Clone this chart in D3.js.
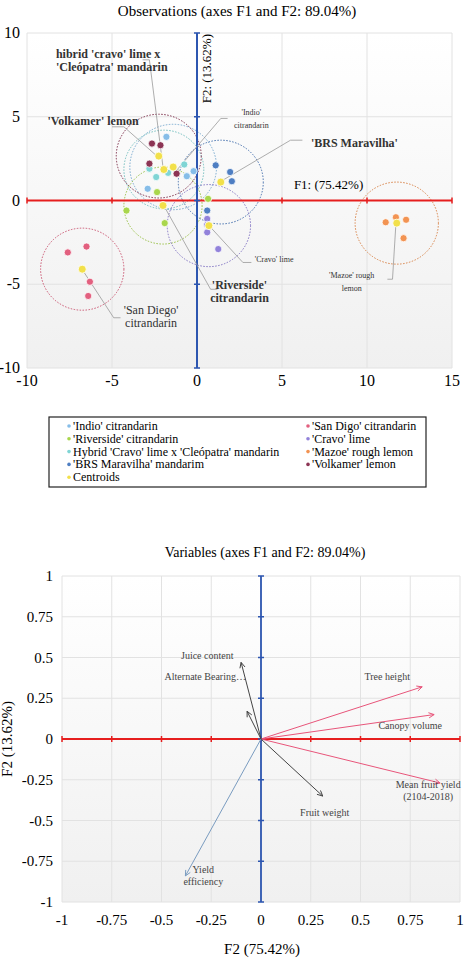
<!DOCTYPE html>
<html><head><meta charset="utf-8">
<script src="https://cdn.jsdelivr.net/npm/d3@7"></script>
<style>body{margin:0;background:#fff} svg text{font-family:"Liberation Serif","Times New Roman","DejaVu Serif",serif}</style>
</head><body>
<svg id="chart" width="474" height="959"></svg>
<script>
// ---- data: observations (F1, F2) ----
const groups = ["'Indio' citrandarin","'Riverside' citrandarin","Hybrid 'Cravo' lime x 'Cleópatra' mandarin","'BRS Maravilha' mandarim","'San Digo' citrandarin","'Cravo' lime","'Mazoe' rough lemon","'Volkamer' lemon"];
const groupColors = ["#86bde8","#a9d64c","#80d5d5","#4e7ec2","#e2607f","#9282da","#f29352","#8c3454"];
const obsX = [
  [-1.8,-2.9,-0.6,-0.2],
  [-4.15,-2.35,-1.9,0.65],
  [-2.8,-2.4,-0.75,-1.7],
  [1.1,1.95,2.05,0.6],
  [-7.6,-6.5,-6.3,-6.4],
  [0.6,0.6,1.25,0.6],
  [11.1,11.7,12.3,12.15],
  [-2.65,-2.15,-2.8,-1.2]
];
const obsY = [
  [3.8,0.7,1.45,1.75],
  [-0.6,0.5,-1.35,0.1],
  [1.9,1.4,2.15,1.65],
  [2.1,1.7,1.15,-0.6],
  [-3.1,-2.75,-4.85,-5.7],
  [-1.1,-1.9,-2.9,-1.45],
  [-1.3,-1.0,-1.15,-2.25],
  [3.4,3.3,2.2,1.6]
];
const centroidX = [-1.4,-2.0,-1.95,1.4,-6.75,0.7,11.75,-2.25];
const centroidY = [2.0,-0.3,1.85,1.1,-4.1,-1.5,-1.35,2.65];
const circleR = [2.55,2.3,2.35,2.5,2.45,2.45,2.45,2.5];

// ---- data: variables (correlation circle) ----
const varNames = ["Tree height","Canopy volume","Mean fruit yield","Fruit weight","Yield efficiency","Juice content","Alternate Bearing…"];
const varX = [0.81,0.87,0.90,0.31,-0.38,-0.10,-0.07];
const varY = [0.32,0.15,-0.27,-0.35,-0.84,0.47,0.17];
const varColors = ["#e8557a","#e8557a","#e8557a","#444","#7a9cc0","#444","#444"];

const svg = d3.select("#chart");

function plotBg(g, x, y) {
  const id = "grad" + Math.round(x.range()[0] + y.range()[0]);
  const gr = svg.append("defs").append("linearGradient").attr("id", id).attr("x1",0).attr("x2",0).attr("y1",0).attr("y2",1);
  gr.append("stop").attr("offset","0%").attr("stop-color","#ffffff");
  gr.append("stop").attr("offset","100%").attr("stop-color","#f0f0f0");
  g.append("rect").attr("x", x.range()[0]).attr("y", y.range()[1])
    .attr("width", x.range()[1]-x.range()[0]).attr("height", y.range()[0]-y.range()[1])
    .attr("fill", `url(#${id})`);
}

// ================= Plot 1 =================
{
  const x = d3.scaleLinear().domain([-10,15]).range([27,452]);
  const y = d3.scaleLinear().domain([-10,10]).range([368,33]);
  const g = svg.append("g");
  svg.append("text").attr("x",237).attr("y",16).attr("text-anchor","middle")
    .attr("font-size",15).text("Observations (axes F1 and F2: 89.04%)");
  plotBg(g, x, y);
  g.selectAll(".gx").data(x.ticks(5)).join("line").attr("x1",d=>x(d)).attr("x2",d=>x(d))
    .attr("y1",y(10)).attr("y2",y(-10)).attr("stroke","#e2e2e2");
  g.selectAll(".gy").data(y.ticks(4)).join("line").attr("y1",d=>y(d)).attr("y2",d=>y(d))
    .attr("x1",x(-10)).attr("x2",x(15)).attr("stroke","#e2e2e2");
  g.selectAll(".tx").data(x.ticks(5)).join("text").attr("x",d=>x(d)).attr("y",386)
    .attr("text-anchor","middle").attr("font-size",16).text(d=>d);
  g.selectAll(".ty").data(y.ticks(4)).join("text").attr("x",20).attr("y",d=>y(d)+5)
    .attr("text-anchor","end").attr("font-size",16).text(d=>d);

  groups.forEach((n,i)=>{
    g.append("ellipse").attr("cx",x(centroidX[i])).attr("cy",y(centroidY[i]))
      .attr("rx",x(circleR[i])-x(0)).attr("ry",y(0)-y(circleR[i]))
      .attr("fill","none").attr("stroke",d3.color(groupColors[i]).darker(0.3)).attr("stroke-width",1)
      .attr("stroke-dasharray","1.5,1.5");
  });
  g.append("line").attr("x1",x(-10)).attr("x2",x(15)).attr("y1",y(0)).attr("y2",y(0)).attr("stroke","#e61e1e").attr("stroke-width",2);
  g.selectAll(".axt").data(x.ticks(5)).join("line").attr("x1",d=>x(d)).attr("x2",d=>x(d)).attr("y1",y(0)-3).attr("y2",y(0)+3).attr("stroke","#e61e1e").attr("stroke-width",1.5);
  g.append("line").attr("x1",x(0)).attr("x2",x(0)).attr("y1",y(10)).attr("y2",y(-10)).attr("stroke","#2d56b0").attr("stroke-width",2);
  g.selectAll(".ayt").data(y.ticks(4)).join("line").attr("y1",d=>y(d)).attr("y2",d=>y(d)).attr("x1",x(0)-3).attr("x2",x(0)+3).attr("stroke","#2d56b0").attr("stroke-width",1.5);
  g.append("text").attr("transform",`translate(${x(0)+14},${y(5.8)}) rotate(-90)`)
    .attr("font-size",13).text("F2: (13.62%)");
  g.append("text").attr("x",x(5.7)).attr("y",y(0.7)).attr("font-size",13).text("F1: (75.42%)");

  const lab = [
    {t:["hibrid 'cravo' lime x","'Cleópatra' mandarin"],lx:-8.3,ly:8.5,px:-2.0,py:2.0,ex:-2.8,ey:8.4,tx:-3.2,fs:12,w:"bold",a:"start"},
    {t:["'Volkamer' lemon"],lx:-8.8,ly:4.5,px:-2.3,py:2.6,ex:-4.3,ey:4.4,tx:-5.0,fs:12,w:"bold",a:"start"},
    {t:["'Indio'","citrandarin"],lx:3.2,ly:5.1,px:-1.2,py:1.8,ex:1.4,ey:4.9,tx:1.8,fs:8,w:"normal",a:"middle"},
    {t:["'BRS Maravilha'"],lx:6.7,ly:3.2,px:1.5,py:1.2,ex:5.5,ey:3.6,tx:6.2,fs:12,w:"bold",a:"start"},
    {t:["'Cravo' lime"],lx:3.4,ly:-3.7,px:0.8,py:-1.6,ex:2.7,ey:-3.7,tx:3.2,fs:8,w:"normal",a:"start"},
    {t:["'Riverside'","citrandarin"],lx:2.5,ly:-5.3,px:-1.9,py:-0.4,ex:0.8,ey:-5.3,tx:1.2,fs:12,w:"bold",a:"middle"},
    {t:["'San Diego'","citrandarin"],lx:-2.7,ly:-6.8,px:-6.7,py:-4.2,ex:-4.9,ey:-7.0,tx:-4.5,fs:12,w:"normal",a:"middle"},
    {t:["'Mazoe' rough","lemon"],lx:9.1,ly:-4.6,px:11.7,py:-1.4,ex:11.5,ey:-4.7,tx:11.2,fs:8,w:"normal",a:"middle"}
  ];
  lab.forEach(l=>{
    g.append("polyline").attr("points",`${x(l.px)},${y(l.py)} ${x(l.ex)},${y(l.ey)} ${x(l.tx)},${y(l.ey)}`)
      .attr("fill","none").attr("stroke","#999").attr("stroke-width",0.8);
    l.t.forEach((s,k)=>g.append("text").attr("x",x(l.lx)).attr("y",y(l.ly)+k*13)
      .attr("text-anchor",l.a).attr("font-size",l.fs).attr("font-weight",l.w)
      .attr("fill","#333").text(s));
  });

  groups.forEach((n,i)=>{
    obsX[i].forEach((v,j)=>{
      g.append("circle").attr("cx",x(v)).attr("cy",y(obsY[i][j])).attr("r",3.6)
        .attr("fill",groupColors[i]).attr("stroke","#fff").attr("stroke-width",0.8);
    });
  });
  centroidX.forEach((v,i)=>{
    g.append("circle").attr("cx",x(v)).attr("cy",y(centroidY[i])).attr("r",4)
      .attr("fill","#f2e04a").attr("stroke","#fff").attr("stroke-width",0.8);
  });

  // legend
  const lg = svg.append("g");
  lg.append("rect").attr("x",49).attr("y",417).attr("width",377).attr("height",70).attr("fill","#fff").attr("stroke","#222").attr("stroke-width",1.2);
  const items = groups.map((n,i)=>({n,c:groupColors[i]})).concat([{n:"Centroids",c:"#f2e04a"}]);
  const pos = [[0,0],[0,1],[0,2],[0,3],[1,0],[1,1],[1,2],[1,3],[0,4]];
  items.forEach((it,i)=>{
    const cx = pos[i][0] ? 308 : 69, cy = 429 + pos[i][1]*12.8;
    lg.append("circle").attr("cx",cx).attr("cy",cy-3).attr("r",1.8).attr("fill",it.c);
    lg.append("text").attr("x",cx+4).attr("y",cy+1).attr("font-size",12).text(it.n);
  });
}

// ================= Plot 2 =================
{
  const x = d3.scaleLinear().domain([-1,1]).range([62,460]);
  const y = d3.scaleLinear().domain([-1,1]).range([902,576]);
  const g = svg.append("g");
  svg.append("text").attr("x",265).attr("y",557).attr("text-anchor","middle")
    .attr("font-size",14).text("Variables (axes F1 and F2: 89.04%)");
  plotBg(g, x, y);
  const ticks = d3.range(-1,1.001,0.25);
  g.selectAll(".gx").data(ticks).join("line").attr("x1",d=>x(d)).attr("x2",d=>x(d))
    .attr("y1",y(1)).attr("y2",y(-1)).attr("stroke","#e2e2e2");
  g.selectAll(".gy").data(ticks).join("line").attr("y1",d=>y(d)).attr("y2",d=>y(d))
    .attr("x1",x(-1)).attr("x2",x(1)).attr("stroke","#e2e2e2");
  g.selectAll(".tx").data(ticks).join("text").attr("x",d=>x(d)).attr("y",925)
    .attr("text-anchor","middle").attr("font-size",15).text(d=>+d.toFixed(2));
  g.selectAll(".ty").data(ticks).join("text").attr("x",53).attr("y",d=>y(d)+5)
    .attr("text-anchor","end").attr("font-size",15).text(d=>+d.toFixed(2));
  svg.append("text").attr("x",262).attr("y",954).attr("text-anchor","middle").attr("font-size",15).text("F2  (75.42%)");
  svg.append("text").attr("transform","translate(12,739) rotate(-90)").attr("text-anchor","middle").attr("font-size",15).text("F2  (13.62%)");

  g.append("line").attr("x1",x(-1)).attr("x2",x(1)).attr("y1",y(0)).attr("y2",y(0)).attr("stroke","#e61e1e").attr("stroke-width",1.8);
  g.selectAll(".axt").data(ticks).join("line").attr("x1",d=>x(d)).attr("x2",d=>x(d)).attr("y1",y(0)-3).attr("y2",y(0)+3).attr("stroke","#e61e1e").attr("stroke-width",1.5);
  g.append("line").attr("x1",x(0)).attr("x2",x(0)).attr("y1",y(1)).attr("y2",y(-1)).attr("stroke","#2d56b0").attr("stroke-width",1.8);
  g.selectAll(".ayt").data(ticks).join("line").attr("y1",d=>y(d)).attr("y2",d=>y(d)).attr("x1",x(0)-3).attr("x2",x(0)+3).attr("stroke","#2d56b0").attr("stroke-width",1.5);

  varNames.forEach((n,i)=>{
    const x1=x(varX[i]), y1=y(varY[i]), x0=x(0), y0=y(0);
    const ang=Math.atan2(y1-y0,x1-x0), h=6;
    g.append("line").attr("x1",x0).attr("y1",y0).attr("x2",x1).attr("y2",y1).attr("stroke",varColors[i]).attr("stroke-width",1);
    g.append("polyline").attr("points",`${x1-h*Math.cos(ang-0.45)},${y1-h*Math.sin(ang-0.45)} ${x1},${y1} ${x1-h*Math.cos(ang+0.45)},${y1-h*Math.sin(ang+0.45)}`)
      .attr("fill","none").attr("stroke",varColors[i]).attr("stroke-width",1);
  });
  const vl = [
    {t:["Tree height"],x:0.52,y:0.36,a:"start"},
    {t:["Canopy volume"],x:0.59,y:0.06,a:"start"},
    {t:["Mean fruit yield","(2104-2018)"],x:0.84,y:-0.3,a:"middle"},
    {t:["Fruit weight"],x:0.32,y:-0.47,a:"middle"},
    {t:["Yield","efficiency"],x:-0.29,y:-0.82,a:"middle"},
    {t:["Juice content"],x:-0.27,y:0.49,a:"middle"},
    {t:["Alternate Bearing…"],x:-0.28,y:0.36,a:"middle"}
  ];
  vl.forEach(l=>l.t.forEach((s,k)=>g.append("text").attr("x",x(l.x)).attr("y",y(l.y)+k*12)
    .attr("text-anchor",l.a).attr("font-size",10).attr("fill","#444").text(s)));
}
</script>
</body></html>
